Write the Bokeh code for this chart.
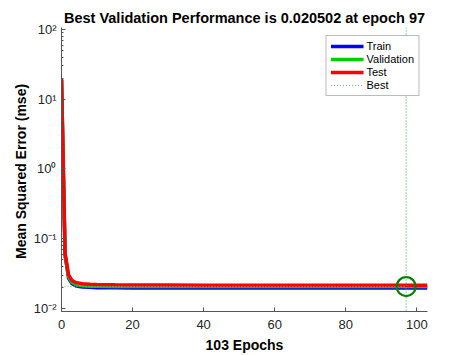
from bokeh.plotting import figure
from bokeh.models import Range1d, FixedTicker, Legend, LegendItem, Span
from bokeh.embed import file_html
from bokeh.resources import INLINE

# Data
epochs = [0, 1, 2, 3, 4, 5, 6, 8, 10, 15, 20, 30, 40, 60, 80, 97, 103]
train = [19.0, 0.058, 0.027, 0.0225, 0.0210, 0.0205, 0.0202, 0.0200, 0.0198,
         0.0197, 0.0196, 0.0196, 0.0195, 0.0195, 0.0195, 0.0195, 0.0195]
validation = [19.2, 0.060, 0.028, 0.0235, 0.0220, 0.0215, 0.0211, 0.0208, 0.0207,
              0.0206, 0.0206, 0.0205, 0.0205, 0.0205, 0.0205, 0.020502, 0.0205]
test = [19.5, 0.062, 0.030, 0.0250, 0.0235, 0.0230, 0.0225, 0.0221, 0.0219,
        0.0217, 0.0216, 0.0216, 0.0215, 0.0215, 0.0215, 0.0215, 0.0215]
best_epoch = 97
best_perf = 0.020502
x_ticks = [0, 20, 40, 60, 80, 100]
y_ticks = [0.01, 0.1, 1, 10, 100]
y_tick_labels = ["10\u207b\u00b2", "10\u207b\u00b9", "10\u2070", "10\u00b9", "10\u00b2"]

FONT = "Liberation Sans"
TXT = "#262626"

p = figure(width=474, height=355, output_backend="svg", toolbar_location=None,
           y_axis_type="log", x_range=Range1d(0, 103), y_range=Range1d(0.0090, 107),
           min_border_left=61, min_border_right=47, min_border_top=27, min_border_bottom=39)
p.outline_line_color = None
p.grid.visible = False
p.background_fill_color = "white"
p.border_fill_color = "white"

p.title.text = "Best Validation Performance is 0.020502 at epoch 97"
p.title.text_font = FONT
p.title.text_font_size = "14.5px"
p.title.text_font_style = "bold"
p.title.align = "center"
p.title.text_color = "black"
p.title.offset = -6
p.title.standoff = 4

for ax in (p.xaxis, p.yaxis):
    ax.axis_line_color = "#555555"
    ax.major_tick_line_color = "#555555"
    ax.minor_tick_line_color = "#555555"
    ax.major_tick_in = 4
    ax.major_tick_out = 0
    ax.minor_tick_in = 2
    ax.minor_tick_out = 0
    ax.major_label_text_font = FONT
    ax.major_label_text_font_size = "13px"
    ax.major_label_text_color = TXT
    ax.axis_label_text_font = FONT
    ax.axis_label_text_font_size = "14px"
    ax.axis_label_text_font_style = "bold"
    ax.axis_label_text_color = "black"

p.xaxis.ticker = FixedTicker(ticks=x_ticks)
p.xaxis.axis_label = "103 Epochs"
p.xaxis.major_label_standoff = 8
p.xaxis.axis_label_standoff = 5
p.yaxis.ticker = FixedTicker(ticks=y_ticks, minor_ticks=[m * 10.0 ** e for e in range(-2, 2) for m in range(2, 10)])
p.yaxis.major_label_overrides = {t: l for t, l in zip(y_ticks, y_tick_labels)}
p.yaxis.axis_label = "Mean Squared Error  (mse)"
p.yaxis.major_label_standoff = 5
p.yaxis.axis_label_standoff = 2

r_train = p.line(epochs, train, line_color="#0000FF", line_width=3.5)
r_val = p.line(epochs, validation, line_color="#00CC00", line_width=3.5)
r_test = p.line(epochs, test, line_color="#FF0000", line_width=3.5)
r_best = p.line([0, best_epoch], [best_perf, best_perf], line_color="#7fbf7f",
                line_width=1, line_dash="1 2")
p.add_layout(Span(location=best_epoch, dimension="height", line_color="#22bb22",
                  line_width=1, line_dash="1 2"))
p.scatter([best_epoch], [best_perf], size=19, fill_color=None, line_color="#008000",
          line_width=2.2)

legend = Legend(items=[LegendItem(label="Train", renderers=[r_train]),
                       LegendItem(label="Validation", renderers=[r_val]),
                       LegendItem(label="Test", renderers=[r_test]),
                       LegendItem(label="Best", renderers=[r_best])],
                location="top_right", label_text_font=FONT, label_text_font_size="11px",
                label_text_color="black", border_line_color="#777777",
                border_line_width=1, glyph_width=33, glyph_height=12,
                label_height=12, spacing=1, padding=4, margin=8,
                label_standoff=3, background_fill_alpha=1)
p.add_layout(legend)

open("out.html", "w").write(file_html(p, INLINE))
